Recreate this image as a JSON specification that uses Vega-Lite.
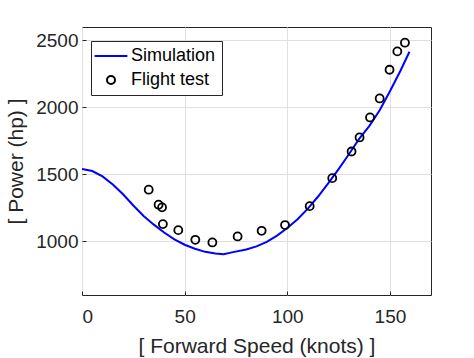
{
  "$schema": "https://vega.github.io/schema/vega-lite/v6.json",
  "width": 349,
  "height": 268,
  "autosize": {"type": "none"},
  "padding": {"left": 82, "top": 27, "right": 43, "bottom": 63},
  "background": "white",
  "config": {
    "font": "Liberation Sans",
    "view": {"stroke": "#262626", "strokeWidth": 1},
    "axis": {
      "domain": false,
      "grid": true,
      "gridColor": "#dfdfdf",
      "gridWidth": 1,
      "tickColor": "#262626",
      "tickSize": -4,
      "labelFont": "Liberation Sans",
      "labelFontSize": 19,
      "labelColor": "#262626",
      "titleFont": "Liberation Sans",
      "titleFontSize": 21,
      "titleFontWeight": "normal",
      "titleColor": "#262626"
    },
    "legend": {
      "labelFont": "Liberation Sans",
      "labelFontSize": 18,
      "labelColor": "#000000"
    }
  },
  "datasets": {
    "simulation": [
      {"speed": 0, "power": 1540, "series": "Simulation"},
      {"speed": 5, "power": 1525, "series": "Simulation"},
      {"speed": 10, "power": 1485, "series": "Simulation"},
      {"speed": 15, "power": 1425, "series": "Simulation"},
      {"speed": 20, "power": 1352, "series": "Simulation"},
      {"speed": 25, "power": 1268, "series": "Simulation"},
      {"speed": 30, "power": 1190, "series": "Simulation"},
      {"speed": 35, "power": 1125, "series": "Simulation"},
      {"speed": 40, "power": 1066, "series": "Simulation"},
      {"speed": 45, "power": 1015, "series": "Simulation"},
      {"speed": 50, "power": 975, "series": "Simulation"},
      {"speed": 55, "power": 945, "series": "Simulation"},
      {"speed": 60, "power": 922, "series": "Simulation"},
      {"speed": 65, "power": 910, "series": "Simulation"},
      {"speed": 69, "power": 904, "series": "Simulation"},
      {"speed": 73, "power": 918, "series": "Simulation"},
      {"speed": 80, "power": 940, "series": "Simulation"},
      {"speed": 85, "power": 963, "series": "Simulation"},
      {"speed": 90, "power": 997, "series": "Simulation"},
      {"speed": 95, "power": 1043, "series": "Simulation"},
      {"speed": 100, "power": 1100, "series": "Simulation"},
      {"speed": 105, "power": 1165, "series": "Simulation"},
      {"speed": 110, "power": 1245, "series": "Simulation"},
      {"speed": 115, "power": 1335, "series": "Simulation"},
      {"speed": 120, "power": 1435, "series": "Simulation"},
      {"speed": 125, "power": 1540, "series": "Simulation"},
      {"speed": 130, "power": 1650, "series": "Simulation"},
      {"speed": 135, "power": 1765, "series": "Simulation"},
      {"speed": 140, "power": 1862, "series": "Simulation"},
      {"speed": 145, "power": 1978, "series": "Simulation"},
      {"speed": 150, "power": 2120, "series": "Simulation"},
      {"speed": 155, "power": 2270, "series": "Simulation"},
      {"speed": 159.5, "power": 2415, "series": "Simulation"}
    ],
    "flight": [
      {"speed": 32.5, "power": 1386, "series": "Flight test"},
      {"speed": 37.3, "power": 1274, "series": "Flight test"},
      {"speed": 39.0, "power": 1254, "series": "Flight test"},
      {"speed": 39.4, "power": 1129, "series": "Flight test"},
      {"speed": 46.9, "power": 1084, "series": "Flight test"},
      {"speed": 55.2, "power": 1012, "series": "Flight test"},
      {"speed": 63.5, "power": 992, "series": "Flight test"},
      {"speed": 75.8, "power": 1037, "series": "Flight test"},
      {"speed": 87.5, "power": 1079, "series": "Flight test"},
      {"speed": 98.9, "power": 1122, "series": "Flight test"},
      {"speed": 110.9, "power": 1263, "series": "Flight test"},
      {"speed": 121.9, "power": 1472, "series": "Flight test"},
      {"speed": 131.3, "power": 1671, "series": "Flight test"},
      {"speed": 135.2, "power": 1776, "series": "Flight test"},
      {"speed": 140.3, "power": 1925, "series": "Flight test"},
      {"speed": 145.0, "power": 2067, "series": "Flight test"},
      {"speed": 149.8, "power": 2281, "series": "Flight test"},
      {"speed": 153.6, "power": 2418, "series": "Flight test"},
      {"speed": 157.3, "power": 2483, "series": "Flight test"}
    ]
  },
  "encoding": {
    "x": {
      "field": "speed",
      "type": "quantitative",
      "scale": {"domain": [0, 170], "nice": false, "zero": false},
      "axis": {"values": [0, 50, 100, 150], "format": "d", "labelPadding": 16, "titlePadding": 9, "title": "[ Forward Speed (knots) ]"}
    },
    "y": {
      "field": "power",
      "type": "quantitative",
      "scale": {"domain": [600, 2600], "nice": false, "zero": false},
      "axis": {"values": [1000, 1500, 2000, 2500], "format": "d", "labelPadding": 8, "titlePadding": 9, "title": "[ Power (hp) ]"}
    }
  },
  "layer": [
    {
      "data": {"name": "simulation"},
      "mark": {"type": "line", "strokeWidth": 2, "clip": true},
      "encoding": {
        "stroke": {
          "field": "series",
          "type": "nominal",
          "scale": {"domain": ["Simulation", "Flight test"], "range": ["#0000ff", "#000000"]},
          "legend": {
            "title": null,
            "orient": "none",
            "legendX": 9,
            "legendY": 14,
            "padding": 6,
            "strokeColor": "#262626",
            "fillColor": "white",
            "symbolOffset": 5,
            "labelOffset": 11,
            "rowPadding": 6,
            "symbolSize": 64,
            "symbolStrokeWidth": 2
          }
        }
      }
    },
    {
      "data": {"name": "flight"},
      "mark": {"type": "point", "filled": false, "size": 64, "strokeWidth": 1.8, "opacity": 1},
      "encoding": {
        "stroke": {
          "field": "series",
          "type": "nominal",
          "scale": {"domain": ["Simulation", "Flight test"], "range": ["#0000ff", "#000000"]}
        },
        "shape": {
          "field": "series",
          "type": "nominal",
          "scale": {"domain": ["Simulation", "Flight test"], "range": ["M-4.1,0H4.1", "circle"]},
          "legend": {
            "title": null,
            "orient": "none",
            "legendX": 9,
            "legendY": 14,
            "padding": 6,
            "strokeColor": "#262626",
            "fillColor": "white",
            "symbolOffset": 5,
            "labelOffset": 11,
            "rowPadding": 6,
            "symbolSize": 64,
            "symbolStrokeWidth": 2
          }
        }
      }
    }
  ]
}
